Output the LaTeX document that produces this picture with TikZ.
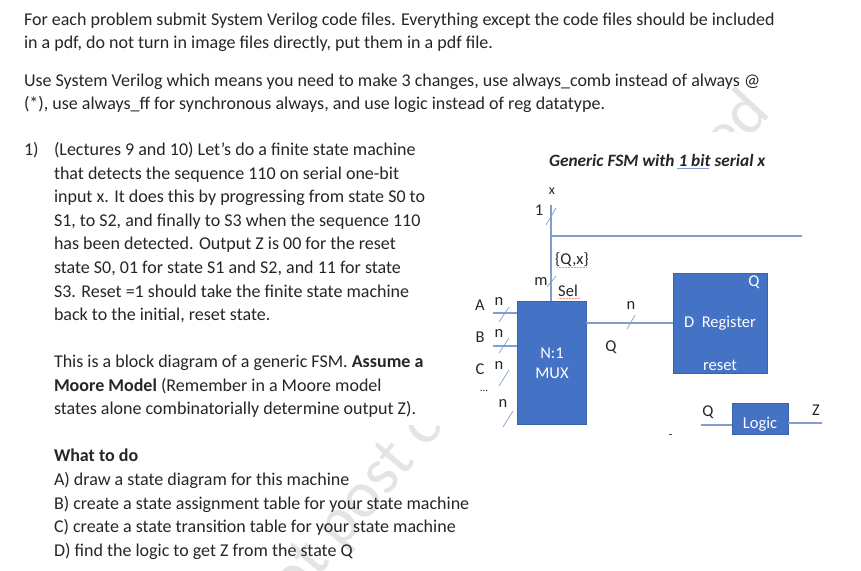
\documentclass[tikz,border=0pt]{standalone}
\usepackage{fontspec}
\setmainfont{Carlito}
\definecolor{wire}{HTML}{7F9FD0}
\definecolor{boxfill}{HTML}{4472C4}
\definecolor{boxedge}{HTML}{3A62A8}
\definecolor{ink}{HTML}{262626}
\definecolor{wm}{HTML}{E4E4E4}
\begin{document}
\begin{tikzpicture}[x=1pt,y=-1pt,
  line/.style={anchor=base west,inner sep=0pt,outer sep=0pt,text=ink,font=\fontsize{18}{20}\selectfont},
  lab/.style={inner sep=0pt,outer sep=0pt,text=ink,font=\fontsize{16.5}{18}\selectfont},
  block/.style={draw=boxedge,fill=boxfill,line width=0.8pt},
  inblock/.style={inner sep=0pt,outer sep=0pt,text=white,font=\fontsize{16.5}{18}\selectfont},
  wireline/.style={draw=wire,line width=1.1pt},
  tick/.style={draw=wire,line width=0.7pt},
  wmark/.style={inner sep=0pt,text=wm,font=\fontsize{66}{66}\selectfont}]
\useasboundingbox (0,0) rectangle (861,570);
\fill[white] (0,0) rectangle (861,570);
% watermarks
\begin{scope}
\clip (250,425) rectangle (480,570);
\node[wmark,rotate=50] (wm1) at (358,507) {ot post c};
\end{scope}
\begin{scope}
\clip (690,85) rectangle (790,131);
\node[wmark,rotate=47] (wm2) at (733,123) {ed};
\end{scope}
% text lines
\node[line] (t1) at (24,25) {For each problem submit System Verilog code files. Everything except the code files should be included};
\node[line] (t2) at (24,48) {in a pdf, do not turn in image files directly, put them in a pdf file.};
\node[line] (t3) at (24,86) {Use System Verilog which means you need to make 3 changes, use always\_comb instead of always @};
\node[line] (t4) at (24,109) {(*), use always\_ff for synchronous always, and use logic instead of reg datatype.};
\node[line] (n1) at (24,155) {1)};
\node[line] (p1) at (54,155) {(Lectures 9 and 10) Let’s do a finite state machine};
\node[line] (p2) at (54,179) {that detects the sequence 110 on serial one-bit};
\node[line] (p3) at (54,202) {input x. It does this by progressing from state S0 to};
\node[line] (p4) at (54,226) {S1, to S2, and finally to S3 when the sequence 110};
\node[line] (p5) at (54,249) {has been detected. Output Z is 00 for the reset};
\node[line] (p6) at (54,273) {state S0, 01 for state S1 and S2, and 11 for state};
\node[line] (p7) at (54,297) {S3. Reset =1 should take the finite state machine};
\node[line] (p8) at (54,320) {back to the initial, reset state.};
\node[line] (b1) at (54,367) {This is a block diagram of a generic FSM. \textbf{Assume a}};
\node[line] (b2) at (54,391) {\textbf{Moore Model} (Remember in a Moore model};
\node[line] (b3) at (54,414) {states alone combinatorially determine output Z).};
\node[line] (w0) at (54,461) {\textbf{What to do}};
\node[line] (w1) at (54,485) {A) draw a state diagram for this machine};
\node[line] (w2) at (54,509) {B) create a state assignment table for your state machine};
\node[line] (w3) at (54,532) {C) create a state transition table for your state machine};
\node[line] (w4) at (54,556) {D) find the logic to get Z from the state Q};
% title
\node[line,font=\fontsize{17.3}{20}\selectfont\itshape\bfseries] (title) at (549,166) {Generic FSM with 1 bit serial x};
\coordinate (ulA) at (677,168);
\coordinate (ulB) at (709,168);
\draw[wire,line width=0.9pt] (ulA) -- (ulB);
% blocks
\path[block] (517,301) rectangle (586,424);
\path[block] (673,273) rectangle (767,373);
\path[block] (732,403) rectangle (788,434);
\node[inblock] (mux1) at (552,353) {N:1};
\node[inblock] (mux2) at (552,373) {MUX};
\node[inblock] (regq) at (754,282) {Q};
\node[inblock] (regd) at (720,323) {D\hspace{0.45em}Register};
\node[inblock] (regr) at (720,365) {reset};
\node[inblock] (logic) at (760,424) {Logic};
% connector anchors
\coordinate (xtop) at (551,205);
\coordinate (xjoin) at (551,236);
\coordinate (muxsel) at (551,301);
\coordinate (busend) at (802,236);
\coordinate (ain) at (493,313);
\coordinate (amux) at (517,313);
\coordinate (bin) at (493,346);
\coordinate (bmux) at (517,346);
\coordinate (muxout) at (586,323);
\coordinate (regin) at (673,323);
\coordinate (qin) at (701,425);
\coordinate (login) at (732,425);
\coordinate (logout) at (788,423);
\coordinate (zout) at (822,423);
\path[wireline] (xtop) -- (muxsel);
\path[wireline] (xjoin) -- (busend);
\path[wireline] (ain) -- (amux);
\path[wireline] (bin) -- (bmux);
\path[wireline] (muxout) -- (regin);
\path[wireline] (qin) -- (login);
\path[wireline] (logout) -- (zout);
% bus ticks
\path[tick] (546,225) -- (556,208);
\path[tick] (547,287) -- (556,276);
\path[tick] (499,322) -- (509,307);
\path[tick] (499,353) -- (509,338);
\path[tick] (499,386) -- (509,370);
\path[tick] (503,427) -- (513,411);
\path[tick] (627,329) -- (635,315);
% labels
\node[lab,font=\fontsize{14}{16}\selectfont] (lx) at (552,191) {x};
\node[lab] (l1) at (539,210) {1};
\node[lab] (lqx) at (572,260) {\{Q,x\}};
\node[lab] (lm) at (541,281) {m};
\node[lab] (lsel) at (568,291) {Sel};
\node[lab] (la) at (480,305) {A};
\node[lab] (na) at (499,301) {n};
\node[lab] (lb) at (480,337) {B};
\node[lab] (nb) at (499,333) {n};
\node[lab] (lc) at (480,369) {C};
\node[lab] (nc) at (499,365) {n};
\node[lab,font=\fontsize{11}{12}\selectfont] (dots) at (484,391) {...};
\node[lab] (nd) at (503,403) {n};
\node[lab] (nout) at (631,305) {n};
\node[lab] (lq) at (611,347) {Q};
\node[lab] (lqi) at (708,412) {Q};
\node[lab] (lz) at (816,410) {Z};
\draw[red!45,line width=0.5pt,densely dotted] (557,267.5) -- (587,267.5);
\draw[red!45,line width=0.5pt,densely dotted] (558,298) -- (580,298);
\fill[black!70] (669,433.5) rectangle (672,434.5);
\end{tikzpicture}
\end{document}
